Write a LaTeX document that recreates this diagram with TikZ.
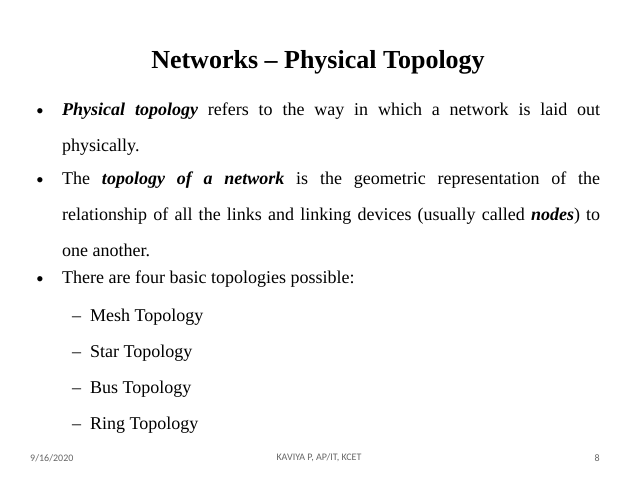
\documentclass[tikz,border=0pt]{standalone}
\usepackage{fontspec}
\setmainfont{Liberation Serif}
\newfontfamily\footfont{Carlito}
\begin{document}
\begin{tikzpicture}[x=1pt,y=-1pt,
  para/.style={anchor=north west,inner sep=0pt,text width=538pt,align=justify,font=\fontsize{18}{36}\selectfont},
  bul/.style={anchor=base west,inner sep=0pt,font=\fontsize{18}{20}\selectfont},
  foot/.style={inner sep=0pt,font=\footfont\fontsize{10}{12}\selectfont,text=black!60}]
\useasboundingbox[fill=white] (0,0) rectangle (638,478);
\node[inner sep=0pt,font=\bfseries\fontsize{26}{30}\selectfont] (title) at (318,62) {Networks -- Physical Topology};
\node[bul,font=\fontsize{22}{24}\selectfont] (b1) at (36,119) {•};
\node[para] (p1) at (62,103) {\textbf{\textit{Physical topology}} refers to the way in which a network is laid out\linebreak physically.};
\node[bul,font=\fontsize{22}{24}\selectfont] (b2) at (36,188) {•};
\node[para] (p2) at (62,172) {The \textbf{\textit{topology of a network}} is the geometric representation of the\linebreak relationship of all the links and linking devices (usually called \textbf{\textit{nodes}}) to\linebreak one another.};
\node[bul,font=\fontsize{22}{24}\selectfont] (b3) at (36,287) {•};
\node[para] (p3) at (62,271) {There are four basic topologies possible:};
\node[bul] (d1) at (72,322) {--};
\node[bul] (s1) at (90,322) {Mesh Topology};
\node[bul] (d2) at (72,358) {--};
\node[bul] (s2) at (90,358) {Star Topology};
\node[bul] (d3) at (72,394) {--};
\node[bul] (s3) at (90,394) {Bus Topology};
\node[bul] (d4) at (72,430) {--};
\node[bul] (s4) at (90,430) {Ring Topology};
\node[foot,anchor=west] (f1) at (30,458) {9/16/2020};
\node[foot] (f2) at (319,458) {KAVIYA P, AP/IT, KCET};
\node[foot,anchor=east] (f3) at (600,458) {8};
\end{tikzpicture}
\end{document}
